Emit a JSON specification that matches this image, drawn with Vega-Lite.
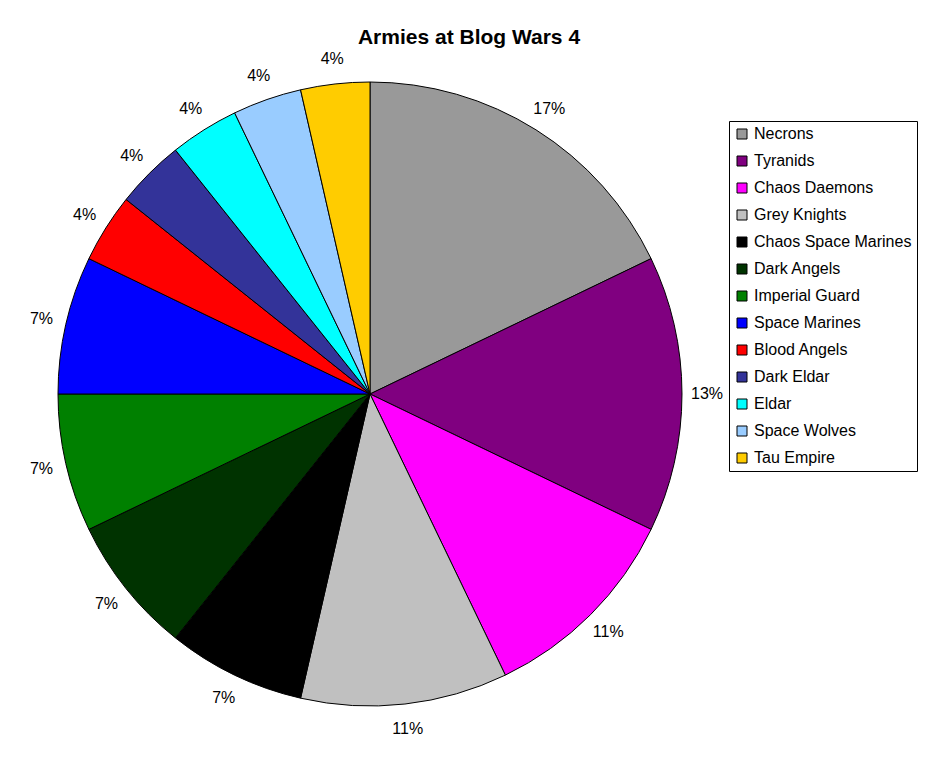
{
  "$schema": "https://vega.github.io/schema/vega-lite/v6.json",
  "width": 740,
  "height": 728,
  "autosize": {"type": "none"},
  "padding": {"left": 0, "top": 30, "right": 195, "bottom": 0},
  "background": "white",
  "title": {
    "text": "Armies at Blog Wars 4",
    "font": "Liberation Sans",
    "fontSize": 21,
    "fontWeight": "bold",
    "color": "black",
    "anchor": "middle",
    "dx": 99,
    "offset": -18
  },
  "config": {"view": {"stroke": null}},
  "data": {
    "values": [
      {"army": "Necrons", "count": 5, "label": "17%", "order": 1},
      {"army": "Tyranids", "count": 4, "label": "13%", "order": 2},
      {"army": "Chaos Daemons", "count": 3, "label": "11%", "order": 3},
      {"army": "Grey Knights", "count": 3, "label": "11%", "order": 4},
      {"army": "Chaos Space Marines", "count": 2, "label": "7%", "order": 5},
      {"army": "Dark Angels", "count": 2, "label": "7%", "order": 6},
      {"army": "Imperial Guard", "count": 2, "label": "7%", "order": 7},
      {"army": "Space Marines", "count": 2, "label": "7%", "order": 8},
      {"army": "Blood Angels", "count": 1, "label": "4%", "order": 9},
      {"army": "Dark Eldar", "count": 1, "label": "4%", "order": 10},
      {"army": "Eldar", "count": 1, "label": "4%", "order": 11},
      {"army": "Space Wolves", "count": 1, "label": "4%", "order": 12},
      {"army": "Tau Empire", "count": 1, "label": "4%", "order": 13}
    ]
  },
  "encoding": {
    "theta": {"field": "count", "type": "quantitative", "stack": true},
    "order": {"field": "order", "type": "quantitative"}
  },
  "layer": [
    {
      "mark": {"type": "arc", "outerRadius": 312, "stroke": "black", "strokeWidth": 1},
      "encoding": {
        "color": {
          "field": "army",
          "type": "nominal",
          "scale": {
            "domain": ["Necrons", "Tyranids", "Chaos Daemons", "Grey Knights", "Chaos Space Marines", "Dark Angels", "Imperial Guard", "Space Marines", "Blood Angels", "Dark Eldar", "Eldar", "Space Wolves", "Tau Empire"],
            "range": ["#999999", "#800080", "#FF00FF", "#C0C0C0", "#000000", "#003300", "#008000", "#0000FF", "#FF0000", "#333399", "#00FFFF", "#99CCFF", "#FFCC00"]
          },
          "legend": {
            "title": null,
            "orient": "none",
            "legendX": 729,
            "legendY": 91,
            "strokeColor": "black",
            "fillColor": "white",
            "padding": 5,
            "symbolType": "square",
            "symbolSize": 100,
            "symbolStrokeColor": "black",
            "symbolStrokeWidth": 1,
            "labelFont": "Liberation Sans",
            "labelFontSize": 16,
            "labelColor": "black",
            "labelOffset": 4,
            "rowPadding": 11,
            "labelLimit": 300
          }
        }
      }
    },
    {
      "mark": {"type": "text", "radius": 337, "font": "Liberation Sans", "fontSize": 16, "color": "black"},
      "encoding": {
        "text": {"field": "label", "type": "nominal"}
      }
    }
  ]
}
